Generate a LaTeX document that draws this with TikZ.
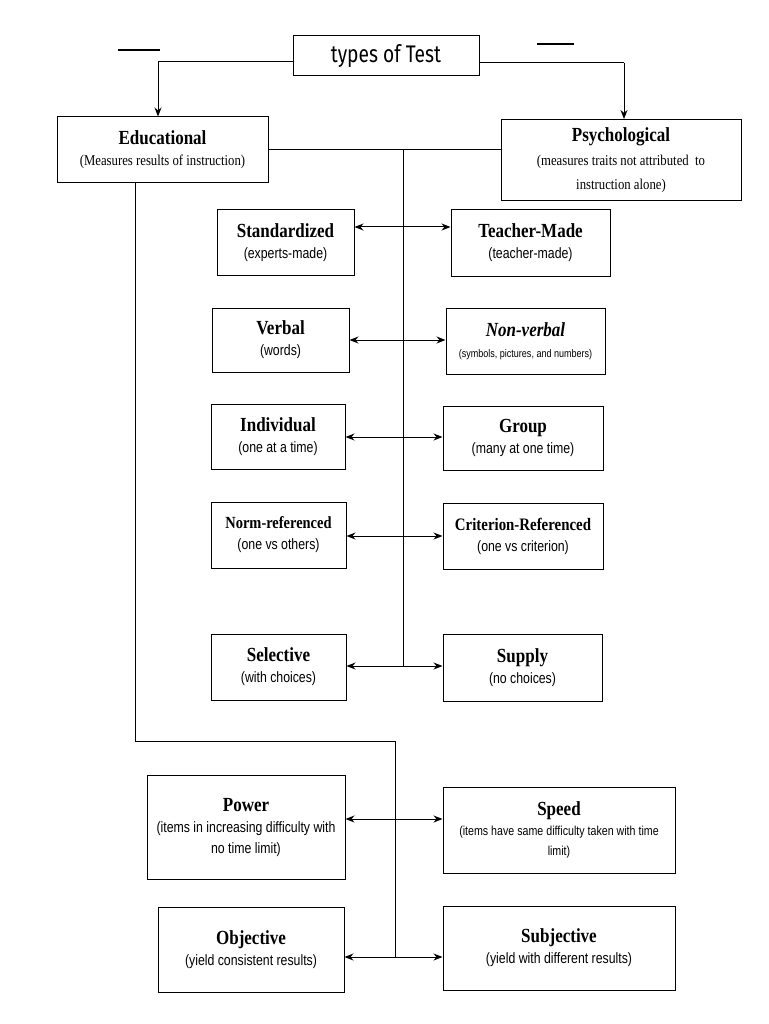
\documentclass[tikz,border=0pt]{standalone}
\usepackage{fontspec}
\setmainfont{Liberation Serif}
\newfontfamily\subf{Liberation Sans}[FakeStretch=0.82]
\newfontfamily\nserif{Liberation Serif}[FakeStretch=0.85]
\newfontfamily\hand{Fira Sans}[FakeStretch=0.8]
\usetikzlibrary{arrows.meta}
\begin{document}
\begin{tikzpicture}[x=1pt,y=-1pt,
  box/.style={draw,line width=1pt,align=center,inner sep=2pt,font=\fontsize{15}{21}\selectfont},
  ln/.style={line width=1pt},
  arr/.style={ln,{Stealth[length=9pt,width=7pt]}-{Stealth[length=9pt,width=7pt]}},
  dn/.style={ln,-{Stealth[length=9pt,width=7pt]}}]
\useasboundingbox (0,0) rectangle (768,1024);
\newcommand{\tl}[1]{{\nserif\bfseries\fontsize{20}{24}\selectfont #1}}
\newcommand{\sbt}[1]{{\subf\fontsize{15}{21}\selectfont #1}}
\node[box,minimum width=186,minimum height=40] (top) at (386,56) {\hand\fontsize{24}{26}\selectfont types of Test};
\node[box,minimum width=211,minimum height=66] (edu) at (162.5,150) {\tl{Educational}\\{\nserif\fontsize{15}{21}\selectfont (Measures results of instruction)}};
\node[box,minimum width=240,minimum height=81,font=\fontsize{15}{24}\selectfont] (psy) at (621,160) {\tl{Psychological}\\{\nserif (measures traits not attributed\ \ to}\\{\nserif instruction alone)}};
\node[box,minimum width=137,minimum height=65] (std) at (285.5,242.5) {\tl{Standardized}\\\sbt{(experts-made)}};
\node[box,minimum width=159,minimum height=66] (tm) at (530.5,243) {\tl{Teacher-Made}\\\sbt{(teacher-made)}};
\node[box,minimum width=137,minimum height=64] (vb) at (280.5,340) {\tl{Verbal}\\\sbt{(words)}};
\node[box,minimum width=159,minimum height=66] (nv) at (525.5,341) {\tl{\itshape Non-verbal}\\{\subf\fontsize{11}{15}\selectfont (symbols, pictures, and numbers)}};
\node[box,minimum width=134,minimum height=65] (ind) at (278,436.5) {\tl{Individual}\\\sbt{(one at a time)}};
\node[box,minimum width=160,minimum height=64] (grp) at (523,438) {\tl{Group}\\\sbt{(many at one time)}};
\node[box,minimum width=135,minimum height=66] (nr) at (278.5,535) {{\nserif\bfseries\fontsize{17}{20}\selectfont Norm-referenced}\\\sbt{(one vs others)}};
\node[box,minimum width=160,minimum height=66] (cr) at (523,536) {{\nserif\bfseries\fontsize{17.5}{20}\selectfont Criterion-Referenced}\\\sbt{(one vs criterion)}};
\node[box,minimum width=135,minimum height=66] (sel) at (278.5,667) {\tl{Selective}\\\sbt{(with choices)}};
\node[box,minimum width=159,minimum height=67] (sup) at (522.5,667.5) {\tl{Supply}\\\sbt{(no choices)}};
\node[box,minimum width=198,minimum height=104] (pow) at (246,827) {\tl{Power}\\\sbt{(items in increasing difficulty with}\\\sbt{no time limit)}};
\node[box,minimum width=232,minimum height=86,font=\fontsize{13}{20}\selectfont] (spd) at (559,830) {\tl{Speed}\\{\subf (items have same difficulty taken with time}\\{\subf limit)}};
\node[box,minimum width=186,minimum height=85] (obj) at (251,949.5) {\tl{Objective}\\\sbt{(yield consistent results)}};
\node[box,minimum width=232,minimum height=84] (sub) at (559,948) {\tl{Subjective}\\\sbt{(yield with different results)}};
% top connectors
\coordinate (tl) at (158,62);
\coordinate (tr) at (624,63);
\draw[ln] (top.west |- tl) -- (tl);
\draw[dn] (tl) -- (edu.north -| tl);
\draw[ln] (top.east |- tr) -- (tr);
\draw[dn] (tr) -- (psy.north -| tr);
\draw[line width=2pt] (118,50) -- (160,50);
\draw[line width=2pt] (537,44) -- (574,44);
% middle spine
\coordinate (j) at (403,150);
\draw[ln] (edu.east |- j) -- (psy.west |- j);
\draw[ln] (j) -- (403,666);
\draw[arr] (std.east |- 0,227) -- (tm.west |- 0,227);
\draw[arr] (vb.east |- 0,340) -- (nv.west |- 0,340);
\draw[arr] (ind.east |- 0,437) -- (grp.west |- 0,437);
\draw[arr] (nr.east |- 0,536) -- (cr.west |- 0,536);
\draw[arr] (sel.east |- 0,666) -- (sup.west |- 0,666);
% left spine
\draw[ln] (edu.south -| 135,0) -- (135,741) -- (395,741) -- (395,957);
\draw[arr] (pow.east |- 0,819) -- (spd.west |- 0,819);
\draw[arr] (obj.east |- 0,957) -- (sub.west |- 0,957);
\end{tikzpicture}
\end{document}
